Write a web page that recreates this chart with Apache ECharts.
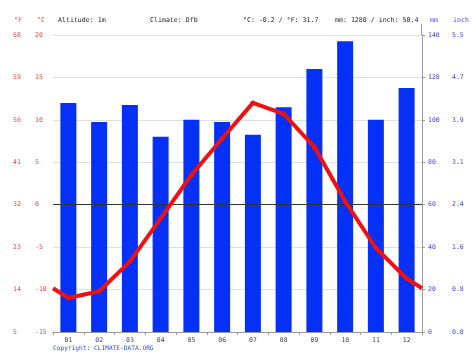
<!DOCTYPE html>
<html><head><meta charset="utf-8">
<script src="https://cdn.jsdelivr.net/npm/echarts@6/dist/echarts.min.js"></script>
<style>html,body{margin:0;padding:0;background:#fff}#c{width:474px;height:355px}</style>
</head><body><div id="c"></div>
<script>
const months = ['01','02','03','04','05','06','07','08','09','10','11','12'];
const precipMm = [108, 99, 107, 92, 100, 99, 93, 106, 124, 137, 100, 115];
const tempC = [-11.0, -10.2, -6.7, -1.6, 3.5, 7.8, 12.0, 10.7, 6.8, 0.4, -5.1, -8.7];
const cTicks = [20, 15, 10, 5, 0, -5, -10, -15];
const fLabels = ['68', '59', '50', '41', '32', '23', '14', '5'];
const mmTicks = [140, 120, 100, 80, 60, 40, 20, 0];
const inchLabels = ['5.5', '4.7', '3.9', '3.1', '2.4', '1.6', '0.8', '0.0'];

const MONO = '"DejaVu Sans Mono", "Liberation Mono", monospace';
const RED = '#e04848', BLUE = '#4545d8';

const edge = (tempC[0] + tempC[11]) / 2;
const lineData = [{value: [0, edge], symbol: 'none'}];
tempC.forEach((t, i) => lineData.push([i + 0.5, t]));
lineData.push({value: [12, edge], symbol: 'none'});

const chart = echarts.init(document.getElementById('c'), null, {renderer: 'canvas'});
const hdr = (x, text, color) => ({type: 'text', left: x, top: 17, style: {text, fill: color, font: '6.6px ' + MONO}});
chart.setOption({
  animation: false,
  backgroundColor: '#fff',
  grid: {left: 53, right: 52, top: 35, bottom: 23},
  graphic: [
    hdr(14, '°F', RED), hdr(37, '°C', RED),
    hdr(58, 'Altitude: 1m', '#222'),
    hdr(150, 'Climate: Dfb', '#222'),
    hdr(243, '°C: -0.2 / °F: 31.7', '#222'),
    hdr(335, 'mm: 1280 / inch: 50.4', '#222'),
    hdr(430, 'mm', BLUE), hdr(453, 'inch', BLUE),
    {type: 'line', shape: {x1: 421.5, y1: 24, x2: 421.5, y2: 35}, style: {stroke: '#999', lineWidth: 1}},
    {type: 'text', left: 53, top: 345, style: {text: 'Copyright: CLIMATE-DATA.ORG', fill: '#3050d0', font: '6.2px ' + MONO}}
  ],
  xAxis: [
    {type: 'category', data: months, boundaryGap: true,
     axisLine: {onZero: false, lineStyle: {color: '#999'}},
     axisTick: {show: true, length: 3, lineStyle: {color: '#999'}},
     axisLabel: {color: '#444', fontFamily: MONO, fontSize: 6.5, margin: 5}},
    {type: 'value', min: 0, max: 12, show: false}
  ],
  yAxis: [
    {type: 'value', min: -15, max: 20, interval: 5, position: 'left',
     axisLine: {show: false}, axisTick: {show: false},
     splitLine: {lineStyle: {color: '#e0e0e0'}},
     axisLabel: {color: RED, fontFamily: MONO, fontSize: 6.5, align: 'left', margin: 18,
       formatter: v => String(v)}},
    {type: 'value', min: -15, max: 20, interval: 5, position: 'left',
     axisLine: {show: false}, axisTick: {show: false}, splitLine: {show: false},
     axisLabel: {color: RED, fontFamily: MONO, fontSize: 6.5, align: 'left', margin: 40,
       formatter: v => fLabels[cTicks.indexOf(v)]}},
    {type: 'value', min: 0, max: 140, interval: 20, position: 'right',
     axisLine: {show: true, onZero: false, lineStyle: {color: '#999'}},
     axisTick: {show: true, length: 3, lineStyle: {color: '#999'}},
     splitLine: {show: false},
     axisLabel: {color: BLUE, fontFamily: MONO, fontSize: 6.5, margin: 6}},
    {type: 'value', min: 0, max: 140, interval: 20, position: 'right',
     axisLine: {show: false}, axisTick: {show: false}, splitLine: {show: false},
     axisLabel: {color: BLUE, fontFamily: MONO, fontSize: 6.5, margin: 30,
       formatter: v => inchLabels[mmTicks.indexOf(v)]}}
  ],
  series: [
    {type: 'bar', xAxisIndex: 0, yAxisIndex: 2, data: precipMm, barWidth: 16,
     itemStyle: {color: '#0530f8'}},
    {type: 'line', xAxisIndex: 1, yAxisIndex: 0, data: lineData,
     symbol: 'circle', symbolSize: 5, z: 5,
     lineStyle: {color: '#ee1111', width: 4}, itemStyle: {color: '#ee1111'},
     markLine: {silent: true, symbol: 'none', label: {show: false},
       lineStyle: {color: '#333', width: 1, type: 'solid'},
       data: [{yAxis: 0}]}}
  ]
});
</script></body></html>
